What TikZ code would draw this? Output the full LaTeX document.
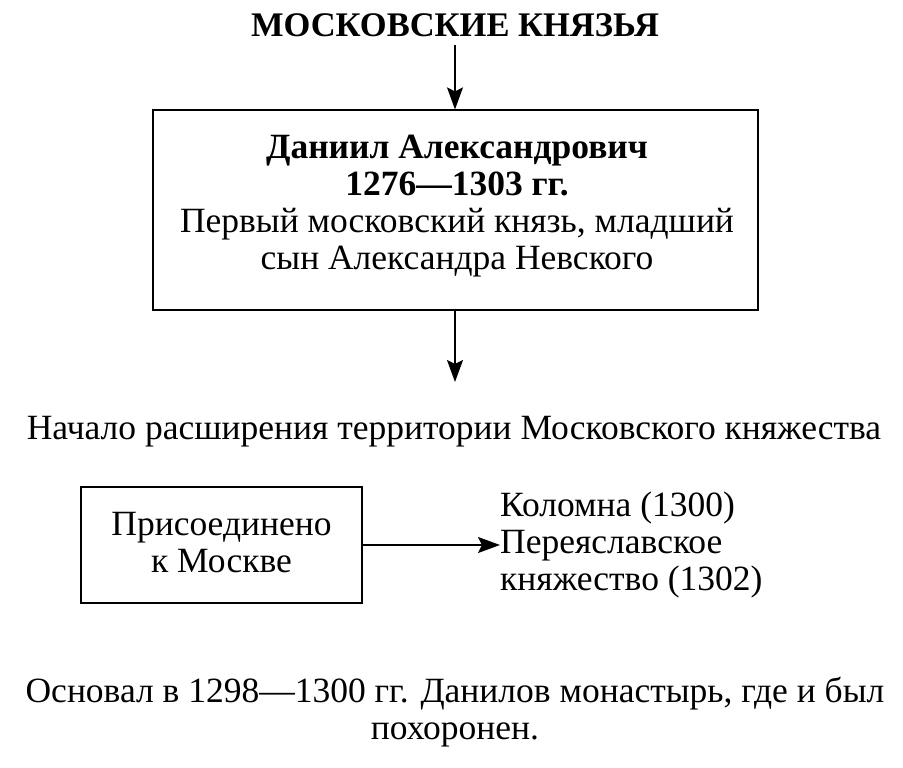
\documentclass[tikz,border=0pt]{standalone}
\usepackage{fontspec}
\setmainfont{Liberation Serif}
\usetikzlibrary{arrows.meta}
\begin{document}
\begin{tikzpicture}[x=1pt,y=-1pt,
  txt/.style={font=\fontsize{35.5}{37}\selectfont, align=center, inner sep=0pt},
  box/.style={draw, line width=1.2pt},
  arr/.style={line width=1.3pt, -{Stealth[length=22pt,width=16pt,inset=4pt]}}]
\useasboundingbox (0,0) rectangle (903,768);
\node[txt, font=\fontsize{34.5}{37}\selectfont\bfseries] (title) at (455,25) {МОСКОВСКИЕ КНЯЗЬЯ};
\node[box, minimum width=605pt, minimum height=200pt] (b1) at (455.5,210) {};
\node[txt] (t1) at (457,206) {\textbf{Даниил Александрович}\\\textbf{1276—1303 гг.}\\Первый московский князь, младший\\сын Александра Невского};
\node[txt] (t2) at (454,432) {Начало расширения территории Московского княжества};
\node[box, minimum width=281pt, minimum height=116pt] (b2) at (221.5,545) {};
\node[txt] (t3) at (221.5,543) {Присоединено\\к Москве};
\node[txt, align=left, anchor=west] (t4) at (500,545) {Коломна (1300)\\Переяславское\\княжество (1302)};
\node[txt] (t5) at (455,712) {Основал в 1298—1300 гг. Данилов монастырь, где и был\\похоронен.};
\coordinate (a1) at (455,45);
\coordinate (a2) at (455,382);
\draw[arr] (a1) -- (b1.north -| a1);
\draw[arr] (b1.south -| a1) -- (a2);
\draw[arr] (b2.east) -- (t4.west |- b2.east);
\end{tikzpicture}
\end{document}
